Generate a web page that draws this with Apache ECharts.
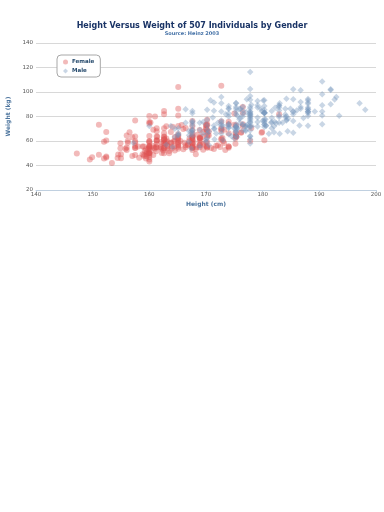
<!DOCTYPE html>
<html><head><meta charset="utf-8">
<script src="https://cdn.jsdelivr.net/npm/echarts@6/dist/echarts.min.js"></script>
<style>html,body{margin:0;padding:0;background:#fff}#c{width:384px;height:512px}</style>
</head><body><div id="c"></div>
<script>
const titleText = 'Height Versus Weight of 507 Individuals by Gender';
const subtitleText = 'Source: Heinz 2003';
const xTicks = [140,150,160,170,180,190,200];
const yTicks = [20,40,60,80,100,120,140];
const female = [[161.2, 51.6], [167.5, 59.0], [159.5, 49.2], [157.0, 63.0], [155.8, 53.6], [170.0, 59.0], [159.1, 47.6], [166.0, 69.8], [176.2, 66.8], [160.2, 75.2], [172.5, 55.2], [170.9, 54.2], [172.9, 62.5], [153.4, 42.0], [160.0, 50.0], [147.2, 49.8], [168.2, 49.2], [175.0, 73.2], [157.0, 47.8], [167.6, 68.8], [159.5, 50.6], [175.0, 82.5], [166.8, 57.2], [176.5, 87.8], [170.2, 72.8], [174.0, 54.5], [173.0, 59.8], [179.9, 67.3], [170.5, 67.8], [160.0, 47.0], [154.4, 46.2], [162.0, 55.0], [176.5, 83.0], [160.0, 54.4], [152.0, 45.8], [162.1, 53.6], [170.0, 73.2], [160.2, 52.1], [161.3, 67.9], [166.4, 56.6], [168.9, 62.3], [163.8, 58.5], [167.6, 54.5], [160.0, 50.2], [161.3, 60.3], [167.6, 58.3], [165.1, 56.2], [160.0, 50.2], [170.0, 72.9], [157.5, 59.8], [167.6, 61.0], [160.7, 69.1], [163.2, 55.9], [152.4, 46.5], [157.5, 54.3], [168.3, 54.8], [180.3, 60.7], [165.5, 60.0], [165.0, 62.0], [164.5, 60.3], [156.0, 52.7], [160.0, 74.3], [163.0, 62.0], [165.7, 73.1], [161.0, 80.0], [162.0, 54.7], [166.0, 53.2], [174.0, 75.7], [172.7, 61.1], [167.6, 55.7], [151.1, 48.7], [164.5, 52.3], [163.5, 50.0], [152.0, 59.3], [169.0, 62.5], [164.0, 55.7], [161.2, 54.8], [155.0, 45.9], [170.0, 70.6], [176.2, 67.2], [170.0, 69.4], [162.5, 58.2], [170.3, 64.8], [164.1, 71.6], [169.5, 52.8], [163.2, 59.8], [154.5, 49.0], [159.8, 50.0], [173.2, 69.2], [170.0, 55.9], [161.4, 63.4], [169.0, 58.2], [166.2, 58.6], [159.4, 45.7], [162.5, 52.2], [159.0, 48.6], [162.8, 57.8], [159.0, 55.6], [179.8, 66.8], [162.9, 59.4], [161.0, 53.6], [151.1, 73.2], [168.2, 53.4], [168.9, 69.0], [173.2, 58.4], [171.8, 56.2], [178.0, 70.6], [164.3, 59.8], [163.0, 72.0], [168.5, 65.2], [166.8, 56.6], [172.7, 105.2], [163.5, 51.8], [169.4, 63.4], [167.8, 59.0], [159.5, 47.6], [167.6, 63.0], [161.2, 55.2], [160.0, 45.0], [163.2, 54.0], [162.2, 50.2], [161.3, 60.2], [149.5, 44.8], [157.5, 58.8], [163.2, 56.4], [172.7, 62.0], [155.0, 49.2], [156.5, 67.2], [164.0, 53.8], [160.9, 54.4], [162.8, 58.0], [167.0, 59.8], [160.0, 54.8], [160.0, 43.2], [168.9, 60.5], [158.2, 46.4], [156.0, 64.4], [160.0, 48.8], [167.1, 62.2], [158.0, 55.5], [167.6, 57.8], [156.0, 54.6], [162.1, 59.2], [173.4, 52.7], [159.8, 53.2], [170.5, 64.5], [159.2, 51.8], [157.5, 56.0], [161.3, 63.6], [162.6, 63.2], [160.0, 59.5], [168.9, 56.8], [165.1, 64.1], [162.6, 50.0], [165.1, 72.3], [166.4, 55.0], [160.0, 55.9], [152.4, 60.4], [170.2, 69.1], [162.6, 84.5], [170.2, 55.9], [158.8, 55.5], [172.7, 69.5], [167.6, 76.4], [162.6, 61.4], [167.6, 65.9], [156.2, 58.6], [175.2, 66.8], [172.1, 56.6], [162.6, 58.6], [160.0, 55.9], [165.1, 59.1], [182.9, 81.8], [166.4, 70.7], [165.1, 56.8], [177.8, 60.0], [165.1, 58.2], [175.3, 72.7], [154.9, 54.1], [158.8, 49.1], [172.7, 75.9], [168.9, 55.0], [161.3, 57.3], [167.6, 55.0], [165.1, 65.5], [175.3, 65.5], [157.5, 48.6], [163.8, 58.6], [167.6, 63.6], [165.1, 55.2], [165.1, 62.7], [168.9, 56.6], [162.6, 53.9], [164.5, 63.2], [176.5, 73.6], [168.9, 62.0], [175.3, 63.6], [159.4, 53.2], [160.0, 53.4], [170.2, 55.0], [162.6, 70.5], [167.6, 54.5], [162.6, 54.5], [160.7, 55.9], [160.0, 59.0], [157.5, 63.6], [162.6, 54.5], [152.4, 47.3], [170.2, 67.7], [165.1, 80.9], [172.7, 70.5], [165.1, 60.9], [170.2, 63.6], [170.2, 54.5], [170.2, 59.1], [161.3, 70.5], [167.6, 52.7], [167.6, 62.7], [165.1, 86.3], [162.6, 66.4], [152.4, 67.3], [168.9, 63.0], [170.2, 73.6], [175.2, 62.3], [175.2, 57.7], [160.0, 55.4], [165.1, 104.1], [174.0, 55.5], [170.2, 77.3], [160.0, 80.5], [167.6, 64.5], [167.6, 72.3], [167.6, 61.4], [154.9, 58.2], [162.6, 81.8], [175.3, 63.6], [171.4, 53.4], [157.5, 54.5], [165.1, 53.6], [160.0, 60.0], [174.0, 73.6], [162.6, 61.4], [174.0, 55.5], [162.6, 63.6], [161.3, 60.9], [156.2, 60.0], [149.9, 46.8], [169.5, 57.3], [160.0, 64.1], [175.3, 63.6], [169.5, 67.3], [160.0, 75.5], [172.7, 68.2], [162.6, 61.4], [157.5, 76.8], [176.5, 71.8], [164.4, 55.5], [160.7, 48.6], [174.0, 66.4], [163.8, 67.3]];
const male = [[174.0, 65.6], [175.3, 71.8], [193.5, 80.7], [186.5, 72.6], [187.2, 78.8], [181.5, 74.8], [184.0, 86.4], [184.5, 78.4], [175.0, 62.0], [184.0, 81.6], [180.0, 76.6], [177.8, 83.6], [192.0, 90.0], [176.0, 74.6], [174.0, 71.0], [184.0, 79.6], [192.7, 93.8], [171.5, 70.0], [173.0, 72.4], [176.0, 85.9], [176.0, 78.8], [180.5, 77.8], [172.7, 66.2], [176.0, 86.4], [173.5, 81.8], [178.0, 89.6], [180.3, 82.8], [180.3, 76.4], [164.5, 63.2], [173.0, 60.9], [183.5, 74.8], [175.5, 70.0], [188.0, 72.4], [189.2, 84.1], [172.8, 69.1], [170.0, 59.5], [182.0, 67.2], [170.0, 61.3], [177.8, 68.6], [184.2, 80.1], [186.7, 87.8], [171.4, 84.7], [172.7, 73.4], [175.3, 72.1], [180.3, 82.6], [182.9, 88.7], [188.0, 84.1], [177.2, 94.1], [172.1, 74.9], [167.0, 59.1], [169.5, 75.6], [174.0, 86.2], [172.7, 75.3], [182.2, 87.1], [164.1, 55.2], [163.0, 57.0], [171.5, 61.4], [184.2, 76.8], [174.0, 86.8], [174.0, 72.2], [177.0, 71.6], [186.0, 84.8], [167.0, 68.2], [171.8, 66.1], [182.0, 72.0], [167.0, 64.6], [177.8, 74.8], [164.5, 70.0], [192.0, 101.6], [175.5, 63.2], [171.2, 79.1], [181.6, 78.9], [167.4, 67.7], [181.1, 66.0], [177.0, 68.2], [174.5, 63.9], [177.5, 72.0], [170.5, 56.8], [182.4, 74.5], [197.1, 90.9], [180.1, 93.0], [175.5, 80.9], [180.6, 72.7], [184.4, 68.0], [175.5, 70.9], [180.6, 72.5], [177.0, 72.5], [177.1, 83.4], [181.6, 75.5], [176.5, 73.0], [175.0, 70.2], [174.0, 73.4], [165.1, 70.5], [177.0, 68.9], [192.0, 102.3], [176.5, 68.4], [169.4, 65.9], [182.1, 75.7], [179.8, 84.5], [175.3, 87.7], [184.9, 86.4], [177.3, 73.2], [167.4, 53.9], [178.1, 72.0], [168.9, 55.5], [157.2, 58.4], [180.3, 83.2], [170.2, 72.7], [177.8, 64.1], [172.7, 72.3], [165.1, 65.0], [186.7, 86.4], [165.1, 65.0], [174.0, 88.6], [175.3, 84.1], [185.4, 66.8], [177.8, 75.5], [180.3, 93.2], [180.3, 82.7], [177.8, 58.0], [177.8, 79.5], [177.8, 78.6], [177.8, 71.8], [177.8, 116.4], [163.8, 72.2], [188.0, 83.6], [198.1, 85.5], [175.3, 90.9], [166.4, 85.9], [190.5, 89.1], [166.4, 75.0], [177.8, 77.7], [179.7, 86.4], [172.7, 90.9], [190.5, 73.6], [185.4, 76.4], [168.9, 69.1], [167.6, 84.5], [175.3, 64.5], [170.2, 69.1], [190.5, 108.6], [177.8, 86.4], [190.5, 80.9], [177.8, 87.7], [184.2, 94.5], [176.5, 80.2], [177.8, 72.0], [180.3, 71.4], [171.4, 72.7], [172.7, 84.1], [172.7, 76.8], [177.8, 63.6], [177.8, 80.9], [182.9, 80.9], [170.2, 85.5], [167.6, 68.6], [175.3, 67.7], [165.1, 66.4], [185.4, 102.3], [181.6, 70.5], [172.7, 95.9], [190.5, 84.1], [179.1, 87.3], [175.3, 71.8], [170.2, 65.9], [193.0, 95.9], [171.4, 91.4], [177.8, 81.8], [177.8, 96.8], [167.6, 69.1], [167.6, 82.7], [180.3, 75.5], [182.9, 79.5], [176.5, 73.6], [186.7, 91.8], [188.0, 84.1], [188.0, 85.9], [177.8, 81.8], [174.0, 82.5], [177.8, 80.5], [171.4, 70.0], [185.4, 81.8], [185.4, 84.1], [188.0, 90.5], [188.0, 91.4], [182.9, 89.1], [176.5, 85.0], [175.3, 69.1], [175.3, 73.6], [188.0, 80.5], [188.0, 82.7], [175.3, 86.4], [170.5, 67.7], [179.1, 92.7], [177.8, 93.6], [175.3, 70.9], [182.9, 75.0], [170.8, 93.2], [188.0, 93.2], [180.3, 77.7], [177.8, 61.4], [185.4, 94.1], [168.9, 75.0], [185.4, 83.6], [180.3, 85.5], [174.0, 73.9], [167.6, 66.8], [182.9, 87.3], [160.0, 72.3], [180.3, 88.6], [167.6, 75.5], [186.7, 101.4], [175.3, 91.1], [175.3, 67.3], [175.9, 77.7], [175.3, 81.8], [179.1, 75.5], [181.6, 84.5], [177.8, 76.6], [182.9, 85.0], [177.8, 102.5], [184.2, 77.3], [179.1, 71.8], [176.5, 87.9], [188.0, 94.3], [174.0, 70.9], [167.6, 64.5], [170.2, 77.3], [167.6, 72.3], [188.0, 87.3], [174.0, 80.0], [176.5, 82.3], [180.3, 73.6], [167.6, 74.1], [188.0, 85.9], [180.3, 73.2], [167.6, 76.3], [183.0, 65.9], [183.0, 90.9], [179.1, 89.1], [170.2, 62.3], [177.8, 82.7], [179.1, 79.1], [190.5, 98.2], [177.8, 84.1], [180.3, 83.2], [180.3, 83.2]];

const FONT = 'DejaVu Sans';
const chart = echarts.init(document.getElementById('c'), null, {renderer: 'canvas'});
chart.setOption({
  animation: false,
  backgroundColor: '#fff',
  textStyle: {fontFamily: FONT},
  title: {
    text: titleText, subtext: subtitleText, left: 'center', top: 21, itemGap: 0, padding: 0,
    textStyle: {fontFamily: FONT, fontSize: 8, fontWeight: 'bold', color: '#1a3466', lineHeight: 10},
    subtextStyle: {fontFamily: FONT, fontSize: 5, fontWeight: 'bold', color: '#4572a7', lineHeight: 6}
  },
  legend: {
    orient: 'vertical', left: 57, top: 55, padding: [4, 6, 3, 6],
    backgroundColor: '#fff',
    borderColor: '#a8a8a8', borderWidth: 1, borderRadius: 4,
    itemWidth: 5, itemHeight: 5, itemGap: 3,
    textStyle: {fontFamily: FONT, fontSize: 5.5, fontWeight: 'bold', color: '#274b6d', padding: [0, 0, 0, -1]},
    data: [{name: 'Female', icon: 'circle'}, {name: 'Male', icon: 'diamond'}]
  },
  grid: {left: 36, right: 8, top: 43, bottom: 322, outerBoundsMode: 'none', containLabel: false},
  xAxis: {
    type: 'value', min: xTicks[0], max: xTicks[xTicks.length - 1], interval: 10,
    name: 'Height (cm)', nameLocation: 'middle', nameGap: 11,
    nameTextStyle: {fontFamily: FONT, fontSize: 6, fontWeight: 'bold', color: '#4d759e'},
    axisLine: {lineStyle: {color: '#c0d0e0'}},
    axisTick: {show: true, length: 2, lineStyle: {color: '#c0d0e0'}},
    axisLabel: {fontFamily: FONT, fontSize: 5.5, color: '#555', margin: 2},
    splitLine: {show: false}
  },
  yAxis: {
    type: 'value', min: yTicks[0], max: yTicks[yTicks.length - 1], interval: 20,
    name: 'Weight (kg)', nameLocation: 'middle', nameGap: 16, nameRotate: 90,
    nameTextStyle: {fontFamily: FONT, fontSize: 6, fontWeight: 'bold', color: '#4d759e'},
    axisLine: {show: false}, axisTick: {show: false},
    axisLabel: {fontFamily: FONT, fontSize: 5.5, color: '#555', margin: 3},
    splitLine: {lineStyle: {color: '#d8d8d8', width: 1}}
  },
  series: [
    {name: 'Female', type: 'scatter', symbol: 'circle', symbolSize: 6, data: female,
     itemStyle: {color: 'rgba(223,83,83,0.5)'}},
    {name: 'Male', type: 'scatter', symbol: 'diamond', symbolSize: 6.5, data: male,
     itemStyle: {color: 'rgba(119,152,191,0.5)'}}
  ]
});
</script></body></html>
